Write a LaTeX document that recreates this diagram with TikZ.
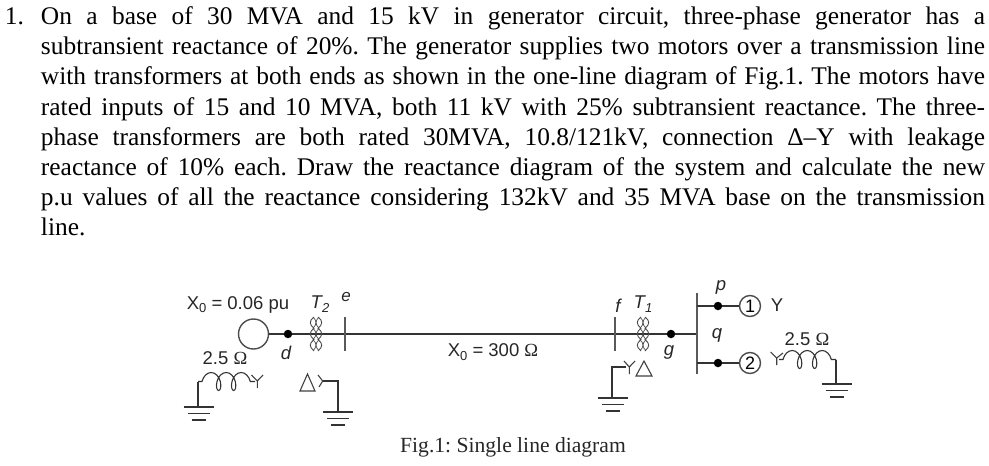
\documentclass[tikz,border=0pt]{standalone}
\usepackage{fontspec}
\setmainfont{Liberation Serif}
\newfontfamily\diagfont{Liberation Sans}
\usetikzlibrary{decorations.pathmorphing}
\newcommand{\lowsub}[1]{\raisebox{-0.35ex}{\fontsize{13}{13}\selectfont #1}}
\frenchspacing
\tikzset{
  x=1pt,y=-1pt,
  bodyline/.style={anchor=base west,inner sep=0pt,outer sep=0pt,font=\fontsize{25.4}{25.4}\selectfont},
  lbl/.style={inner sep=0pt,outer sep=0pt,font=\diagfont\fontsize{18.5}{18.5}\selectfont,text=black!85},
  ilbl/.style={inner sep=0pt,outer sep=0pt,font=\diagfont\itshape\fontsize{18.5}{18.5}\selectfont,text=black!85},
  wire/.style={line width=1.4pt,draw=black!80},
  thinwire/.style={line width=1.1pt,draw=black!80},
  busbar/.style={line width=1.4pt,draw=black!65},
  dotnode/.style={circle,fill=black,inner sep=0pt,minimum size=8.5pt},
  machine/.style={circle,draw=black!70,line width=1.4pt,inner sep=0pt,fill=white},
  coilline/.style={thinwire,decorate,decoration={coil,aspect=0.6,amplitude=9pt,segment length=15pt,pre length=4pt,post length=4pt}},
  symbolline/.style={line width=1.1pt,draw=black!75},
}
\newcommand{\bodytext}[3]{\node[bodyline] (#1) at (41,#2) {\makebox[944pt][s]{#3}};}
\newcommand{\earthsym}[2]{%
  \draw[thinwire] (#1-15,#2) -- (#1+15,#2);
  \draw[thinwire] (#1-11,#2+6.5) -- (#1+11,#2+6.5);
  \draw[thinwire] (#1-7,#2+13) -- (#1+7,#2+13);
}
\newcommand{\xfcoil}[1]{%
  \foreach \o in {-1,1}{
    \draw[line width=.9pt,draw=black!70] (#1+\o*2,317)
      \foreach \k in {0,1,2}{ .. controls (#1+\o*7,321+11.3*\k) and (#1+\o*7,324+11.3*\k) .. (#1+\o*2,328.3+11.3*\k) };
    \draw[line width=.7pt,draw=black!70] (#1-\o*3,317)
      \foreach \k in {0,1,2}{ .. controls (#1+\o*1,321+11.3*\k) and (#1+\o*1,324+11.3*\k) .. (#1-\o*3,328.3+11.3*\k) };
  }
}
\begin{document}
\begin{tikzpicture}
\useasboundingbox (0,0) rectangle (989,466);
% --- problem text ---
\node[bodyline] (num) at (5,24) {1.};
\bodytext{la}{24}{On a base of 30 MVA and 15 kV in generator circuit, three-phase generator has a}
\bodytext{lb}{54}{subtransient reactance of 20\%. The generator supplies two motors over a transmission line}
\bodytext{lc}{84}{with transformers at both ends as shown in the one-line diagram of Fig.1. The motors have}
\bodytext{ld}{115}{rated inputs of 15 and 10 MVA, both 11 kV with 25\% subtransient reactance. The three-}
\bodytext{le}{145}{phase transformers are both rated 30MVA, 10.8/121kV, connection Δ–Y with leakage}
\bodytext{lf}{175}{reactance of 10\% each. Draw the reactance diagram of the system and calculate the new}
\bodytext{lg}{205}{p.u values of all the reactance considering 132kV and 35 MVA base on the transmission}
\node[bodyline] (lh) at (41,235) {line.};
% --- main line ---
\node[machine,minimum size=30pt] (gen) at (253.5,334) {};
\node[dotnode] (d) at (288,334) {};
\coordinate (T2c) at (316,334);
\coordinate (e) at (345,334);
\coordinate (f) at (615,334);
\coordinate (T1c) at (643,334);
\node[dotnode] (g) at (671,334) {};
\coordinate (bus) at (697,334);
\draw[wire] (gen) -- (d) -- (T2c) -- (e) -- (f) -- (T1c) -- (g) -- (bus);
% buses
\coordinate (et) at (345,317); \coordinate (eb) at (345,351);
\coordinate (ft) at (615,317); \coordinate (fb) at (615,351);
\coordinate (bt) at (697,293); \coordinate (bb) at (697,374);
\draw[busbar] (et) -- (eb);
\draw[busbar] (ft) -- (fb);
\draw[busbar] (bt) -- (bb);
% transformers
\xfcoil{316}
\xfcoil{643}
% motors
\coordinate (pb) at (697,306);
\coordinate (qb) at (697,363);
\node[dotnode] (p) at (718,306) {};
\node[dotnode] (q) at (718,363) {};
\node[machine,minimum size=21pt,font=\diagfont\fontsize{18}{18}\selectfont] (m1) at (750,306) {1};
\node[machine,minimum size=21pt,font=\diagfont\fontsize{18}{18}\selectfont] (m2) at (750,363) {2};
\draw[wire] (pb) -- (p) -- (m1);
\draw[wire] (qb) -- (q) -- (m2);
\node[lbl] (ym1) at (777,305) {Y};
% generator neutral reactor
\coordinate (gl) at (198,381.5);
\coordinate (gy) at (255,381.5);
\coordinate (ge) at (198,407);
\draw[coilline] (gl) -- (gy);
\draw[thinwire] (gl) -- (ge);
\earthsym{198.5}{407}
\draw[symbolline] (251.5,375) -- (257.3,381) -- (263,375) (257.3,381) -- (257.3,388);
% motor 2 neutral reactor
\coordinate (mr) at (836,359.5);
\coordinate (my) at (779,359.5);
\coordinate (me) at (836,384);
\draw[coilline] (my) -- (mr);
\draw[thinwire] (mr) -- (me);
\earthsym{836.5}{384}
\draw[symbolline] (770.7,352) -- (776.7,358) -- (783,353) (776.7,358) -- (776.7,365);
% T2 neutral
\coordinate (t2a) at (322.7,381);
\coordinate (t2b) at (338,381);
\coordinate (t2e) at (338,412);
\draw[thinwire] (t2a) -- (t2b) -- (t2e);
\earthsym{338}{412}
\draw[symbolline] (300,391) -- (307.5,374) -- (315,391) -- cycle;
\draw[symbolline] (318,375) -- (322.7,381) -- (319,387);
% T1 neutral
\coordinate (t1a) at (626,367);
\coordinate (t1b) at (612,367);
\coordinate (t1e) at (612,398);
\draw[thinwire] (t1a) -- (t1b) -- (t1e);
\earthsym{613}{398}
\draw[symbolline] (636,376) -- (644,361) -- (652,376) -- cycle;
\draw[symbolline] (624,361) -- (629.3,367) -- (635,361) (629.3,367) -- (629.3,374);
% labels
\node[lbl] (x1) at (238,305) {X\lowsub{0} = 0.06 pu};
\node[ilbl] (t2l) at (320,304) {T\lowsub{2}};
\node[ilbl,font=\diagfont\itshape\fontsize{17}{17}\selectfont] (el) at (346,297) {e};
\node[ilbl] (dl) at (286,353) {d};
\node[lbl] (r1) at (225,358) {2.5 {\rmfamily Ω}};
\node[lbl] (x2) at (493,352) {X\lowsub{0} = 300 {\rmfamily Ω}};
\node[ilbl] (fl) at (618,306) {f};
\node[ilbl] (t1l) at (643,304) {T\lowsub{1}};
\node[ilbl] (gl2) at (669,352) {g};
\node[ilbl] (pl) at (721,287) {p};
\node[ilbl] (ql) at (717,335) {q};
\node[lbl] (r2) at (807,339) {2.5 {\rmfamily Ω}};
\node[inner sep=0pt,font=\fontsize{21.6}{21.6}\selectfont,text=black!85] (cap) at (513,447) {Fig.1: Single line diagram};
\end{tikzpicture}
\end{document}
